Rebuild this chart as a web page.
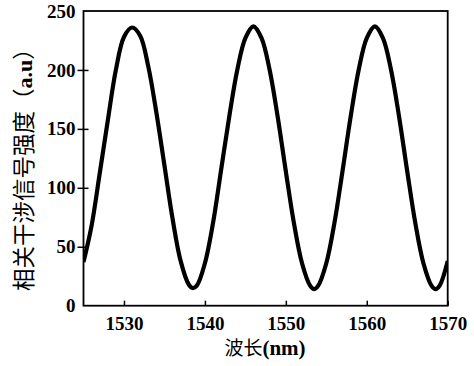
<!DOCTYPE html>
<html>
<head>
<meta charset="utf-8">
<script src="https://cdn.jsdelivr.net/npm/d3@7"></script>
<style>
  html, body { margin: 0; padding: 0; background: #fff; }
  svg { display: block; }
</style>
</head>
<body>
<div id="root"></div>
<script>
// wavelength (nm)
let wavelengths = [
  1525, 1526, 1527, 1528, 1529, 1530, 1531, 1532, 1533, 1534, 1535, 1536, 1537, 1538, 1538.5,
  1539, 1540, 1541, 1542, 1543, 1544, 1545, 1546, 1547, 1548, 1549, 1550, 1551, 1552, 1553, 1553.5,
  1554, 1555, 1556, 1557, 1558, 1559, 1560, 1561, 1562, 1563, 1564, 1565, 1566, 1567, 1568, 1568.5,
  1569, 1570
];
// correlated interference signal intensity (a.u)
let intensity = [
  37, 68, 112, 157, 200, 228, 236, 229, 203, 164, 119, 74, 38, 18, 15,
  17, 36, 70, 115, 160, 200, 227, 237, 227, 200, 160, 114, 70, 36, 17, 14,
  17, 36, 70, 114, 160, 200, 227, 237, 227, 200, 160, 114, 70, 36, 17, 14,
  17, 38
];
let xTicks = [1530, 1540, 1550, 1560, 1570];
let yTicks = [0, 50, 100, 150, 200, 250];

let width = 474,
  height = 366;
let margin = { top: 11, right: 26.3, bottom: 60.3, left: 83.5 };

let svg = d3
  .select("#root")
  .append("svg")
  .attr("width", width)
  .attr("height", height);

let x = d3
  .scaleLinear()
  .domain([1525, 1570])
  .range([margin.left, width - margin.right]);
let y = d3
  .scaleLinear()
  .domain([0, 250])
  .range([height - margin.bottom, margin.top]);

let numFont = "'Liberation Serif', 'Times New Roman', serif";
let cjkFont = "'Noto Sans CJK SC', sans-serif";

// curve
let data = wavelengths.map((w, i) => [w, intensity[i]]);
let line = d3
  .line()
  .x(d => x(d[0]))
  .y(d => y(d[1]))
  .curve(d3.curveCatmullRom.alpha(0.5));

svg
  .append("defs")
  .append("clipPath")
  .attr("id", "plot")
  .append("rect")
  .attr("x", x(1525))
  .attr("y", y(250))
  .attr("width", x(1570) - x(1525))
  .attr("height", y(0) - y(250));

svg
  .append("path")
  .datum(data)
  .attr("clip-path", "url(#plot)")
  .attr("d", line)
  .attr("fill", "none")
  .attr("stroke", "#000")
  .attr("stroke-width", 4.2)
  .attr("stroke-linejoin", "round");

// bottom axis, ticks pointing in
let xAxis = svg
  .append("g")
  .attr("transform", `translate(0,${y(0)})`)
  .call(
    d3
      .axisBottom(x)
      .tickValues(xTicks)
      .tickFormat(d3.format("d"))
      .tickSizeInner(-5)
      .tickSizeOuter(0)
      .tickPadding(9)
  );
xAxis.select(".domain").remove();
xAxis.selectAll("line").attr("stroke", "#000").attr("stroke-width", 1.5);
xAxis
  .selectAll("text")
  .attr("y", 24)
  .attr("dy", null)
  .style("font-family", numFont)
  .style("font-weight", "bold")
  .style("font-size", "19px")
  .attr("fill", "#000");

// left axis, ticks crossing the frame
let yAxis = svg
  .append("g")
  .attr("transform", `translate(${x(1525)},0)`)
  .call(
    d3
      .axisLeft(y)
      .tickValues(yTicks)
      .tickFormat(d3.format("d"))
      .tickSizeOuter(0)
      .tickPadding(8)
  );
yAxis.select(".domain").remove();
yAxis
  .selectAll("line")
  .attr("x1", -6)
  .attr("x2", 5)
  .attr("stroke", "#000")
  .attr("stroke-width", 1.5);
yAxis
  .selectAll("text")
  .attr("x", -8)
  .style("font-family", numFont)
  .style("font-weight", "bold")
  .style("font-size", "19px")
  .attr("fill", "#000");
yAxis.selectAll(".tick").filter(d => d == 0 || d == 250).select("line").remove();

// frame
svg
  .append("rect")
  .attr("x", x(1525))
  .attr("y", y(250))
  .attr("width", x(1570) - x(1525))
  .attr("height", y(0) - y(250))
  .attr("fill", "none")
  .attr("stroke", "#000")
  .attr("stroke-width", 1.8);

// axis titles
let xTitle = svg
  .append("text")
  .attr("x", 265)
  .attr("y", 355)
  .attr("text-anchor", "middle")
  .attr("fill", "#000");
xTitle
  .append("tspan")
  .style("font-family", cjkFont)
  .style("font-size", "19px")
  .text("波长");
xTitle
  .append("tspan")
  .style("font-family", numFont)
  .style("font-weight", "bold")
  .style("font-size", "21px")
  .text("(nm)");

let yTitle = svg
  .append("text")
  .attr("transform", "translate(32,164) rotate(-90)")
  .attr("text-anchor", "middle")
  .attr("fill", "#000");
yTitle
  .append("tspan")
  .style("font-family", cjkFont)
  .style("font-size", "22.5px")
  .text("相关干涉信号强度（");
yTitle
  .append("tspan")
  .style("font-family", numFont)
  .style("font-weight", "bold")
  .style("font-size", "22px")
  .text("a.u");
yTitle
  .append("tspan")
  .style("font-family", cjkFont)
  .style("font-size", "22.5px")
  .text("）");
</script>
</body>
</html>
